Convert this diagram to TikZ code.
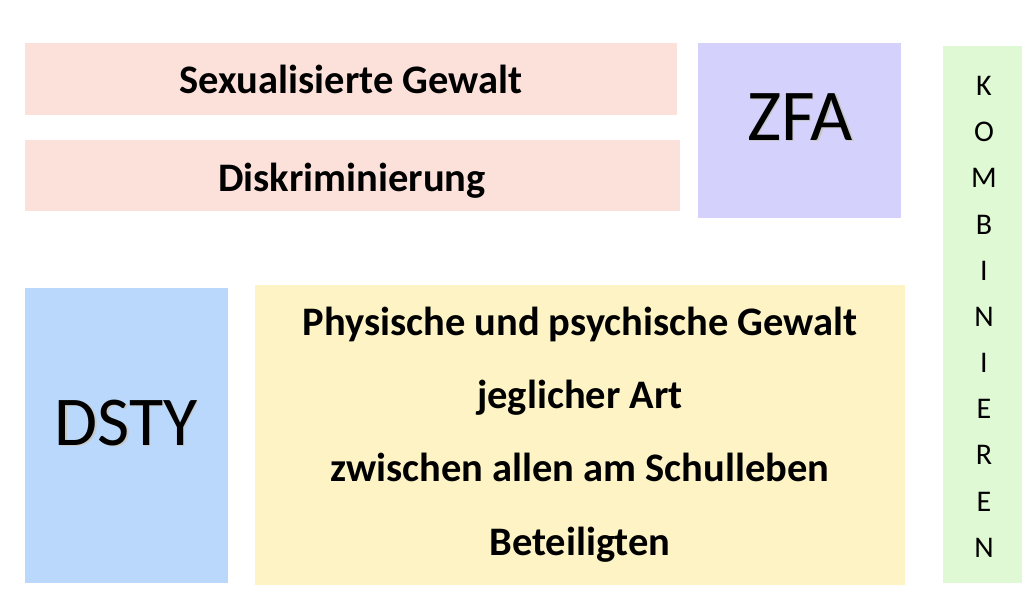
\documentclass[tikz,border=0pt]{standalone}
\usepackage{fontspec}
\setmainfont{Carlito}
\definecolor{pinkbg}{RGB}{252,225,219}
\definecolor{lilacbg}{RGB}{212,210,252}
\definecolor{greenbg}{RGB}{224,249,213}
\definecolor{bluebg}{RGB}{185,216,252}
\definecolor{yellowbg}{RGB}{253,243,196}
\begin{document}
\begin{tikzpicture}[x=1pt,y=-1pt]
\tikzset{
    box/.style={inner sep=0pt, outer sep=0pt},
    topic/.style={anchor=base, font=\fontsize{40.5}{48}\selectfont\bfseries},
    tag/.style={anchor=base, font=\fontsize{73}{80}\selectfont},
    tagshadow/.style={tag, text=black!22},
    letter/.style={anchor=base, font=\fontsize{30}{36}\selectfont},
}
\useasboundingbox[fill=white] (0,0) rectangle (1024,610);

% The coloured fields first.
\node[box, fill=pinkbg,   minimum width=652pt, minimum height=72pt]  (sexbox)  at (351,79)    {};
\node[box, fill=pinkbg,   minimum width=655pt, minimum height=71pt]  (diskbox) at (352.5,175) {};
\node[box, fill=lilacbg,  minimum width=203pt, minimum height=175pt] (zfabox)  at (799.5,130.5) {};
\node[box, fill=bluebg,   minimum width=203pt, minimum height=295pt] (dstybox) at (126.5,435.5) {};
\node[box, fill=yellowbg, minimum width=650pt, minimum height=300pt] (gewbox)  at (580,435)   {};
\node[box, fill=greenbg,  minimum width=79pt,  minimum height=537pt] (kombox)  at (982.5,314.5) {};

% Texts of the pink fields.
\node[topic] (sex)  at (351,93.5) {Sexualisierte Gewalt};
\node[topic] (disk) at (352,191)  {Diskriminierung};

% Big tags, with a soft shadow behind.
\node[tagshadow] (zfas)  at (801.5,141.5) {ZFA};
\node[tag]       (zfa)   at (800,140)     {ZFA};
\node[tagshadow, font=\fontsize{70}{80}\selectfont] (dstys) at (127.5,446.5) {DSTY};
\node[tag, font=\fontsize{70}{80}\selectfont]       (dsty)  at (126,445)     {DSTY};

% Lines of the yellow field.
\node[topic] (line1) at (580,335) {Physische und psychische Gewalt};
\node[topic] (line2) at (580,408) {jeglicher Art};
\node[topic] (line3) at (580,481) {zwischen allen am Schulleben};
\node[topic] (line4) at (580,555) {Beteiligten};

% The vertical word.
\path (984,95)  node[letter] (k1) {K};
\path (984,141) node[letter] (k2) {O};
\path (984,187) node[letter] (k3) {M};
\path (984,234) node[letter] (k4) {B};
\path (984,280) node[letter] (k5) {I};
\path (984,326) node[letter] (k6) {N};
\path (984,372) node[letter] (k7) {I};
\path (984,418) node[letter] (k8) {E};
\path (984,464) node[letter] (k9) {R};
\path (984,511) node[letter] (k10) {E};
\path (984,557) node[letter] (k11) {N};
\end{tikzpicture}
\end{document}
